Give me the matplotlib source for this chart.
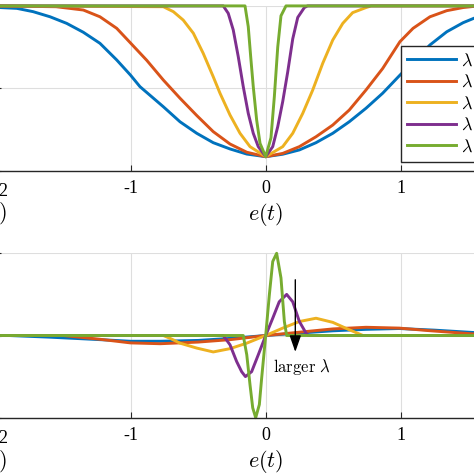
import matplotlib.pyplot as plt

# -------------------- DATA --------------------
labels = [r'$\lambda = 1$', r'$\lambda = 2$', r'$\lambda = 5$', r'$\lambda = 10$', r'$\lambda = 20$']
colors = ['#0072BD', '#D95319', '#EDB120', '#7E2F8E', '#77AC30']

# top panel
top_e_blue = [-2.0, -1.965, -1.84, -1.72, -1.595, -1.472, -1.349, -1.226, -1.102, -1.0, -0.93,
              -0.757, -0.634, -0.51, -0.388, -0.264, -0.14, 0.0, 0.126, 0.249, 0.372, 0.496,
              0.618, 0.742, 0.865, 0.993, 1.215, 1.339, 1.46, 1.54, 2.0]
top_v_blue = [1.0, 0.99, 0.985, 0.965, 0.934, 0.894, 0.84, 0.773, 0.672, 0.58, 0.51,
              0.388, 0.297, 0.227, 0.17, 0.132, 0.101, 0.085, 0.1, 0.126, 0.17, 0.227,
              0.297, 0.379, 0.47, 0.58, 0.763, 0.843, 0.898, 0.925, 1.0]

top_e_red = [-2.0, -1.55, -1.349, -1.226, -1.102, -1.0, -0.88, -0.757, -0.634, -0.51, -0.388,
             -0.264, -0.14, 0.0, 0.126, 0.249, 0.372, 0.496, 0.618, 0.742, 0.865, 0.993,
             1.09, 1.215, 1.339, 1.46, 1.55, 2.0]
top_v_red = [1.0, 0.995, 0.975, 0.934, 0.864, 0.775, 0.67, 0.55, 0.44, 0.335, 0.237,
             0.162, 0.112, 0.085, 0.105, 0.146, 0.206, 0.277, 0.368, 0.49, 0.62, 0.783,
             0.864, 0.934, 0.971, 0.99, 0.998, 1.0]

top_e_yellow = [-2.0, -0.757, -0.683, -0.61, -0.535, -0.462, -0.388, -0.338, -0.264, -0.19,
                -0.116, 0.0, 0.126, 0.2, 0.274, 0.348, 0.422, 0.496, 0.57, 0.643, 0.742, 0.78, 2.0]
top_v_yellow = [1.0, 0.995, 0.965, 0.914, 0.834, 0.712, 0.57, 0.47, 0.338, 0.227,
                0.146, 0.085, 0.146, 0.227, 0.348, 0.49, 0.652, 0.793, 0.894, 0.959, 0.99, 1.0, 1.0]

top_e_purple = [-2.0, -0.314, -0.277, -0.24, -0.203, -0.166, -0.129, -0.092, -0.055, 0.0,
                0.052, 0.089, 0.126, 0.163, 0.2, 0.237, 0.286, 0.31, 2.0]
top_v_purple = [1.0, 1.0, 0.955, 0.854, 0.692, 0.51, 0.348, 0.227, 0.146, 0.085,
                0.146, 0.267, 0.42, 0.6, 0.8, 0.93, 0.99, 1.0, 1.0]

top_e_green = [-2.0, -0.153, -0.129, -0.111, -0.092, -0.067, -0.042, 0.0,
               0.039, 0.064, 0.089, 0.113, 0.15, 2.0]
top_v_green = [1.0, 1.0, 0.874, 0.692, 0.51, 0.308, 0.166, 0.085,
               0.2, 0.45, 0.75, 0.94, 1.0, 1.0]

# bottom panel (scaled so the green peak is 1)
bot_e_blue = [-2.0, -1.9, -1.6, -1.23, -1.0, -0.78, -0.5, -0.26, 0.0, 0.249, 0.496, 0.742,
              0.988, 1.25, 1.53, 2.0]
bot_v_blue = [0.0, 0.0, -0.02, -0.05, -0.07, -0.07, -0.06, -0.035, 0.0, 0.03, 0.057, 0.075,
              0.085, 0.065, 0.037, 0.0]

bot_e_red = [-2.0, -1.5, -1.23, -1.0, -0.78, -0.5, -0.26, 0.0, 0.249, 0.496, 0.742, 0.988,
             1.2, 1.53, 2.0]
bot_v_red = [0.0, 0.0, -0.045, -0.09, -0.1, -0.08, -0.05, 0.0, 0.04, 0.08, 0.1, 0.09,
             0.06, 0.02, 0.0]

bot_e_yellow = [-2.0, -0.757, -0.7, -0.634, -0.51, -0.388, -0.264, -0.14, 0.0, 0.126, 0.249,
                0.372, 0.496, 0.618, 0.72, 2.0]
bot_v_yellow = [0.0, 0.0, -0.04, -0.093, -0.153, -0.2, -0.16, -0.093, 0.0, 0.09, 0.17,
                0.21, 0.16, 0.07, 0.0, 0.0]

bot_e_purple = [-2.0, -0.314, -0.264, -0.215, -0.178, -0.15, -0.104, -0.055, 0.0, 0.052,
                0.1, 0.155, 0.2, 0.249, 0.298, 0.314, 2.0]
bot_v_purple = [0.0, 0.0, -0.113, -0.316, -0.44, -0.5, -0.44, -0.235, 0.0, 0.21,
                0.41, 0.5, 0.41, 0.17, 0.03, 0.0, 0.0]

bot_e_green = [-2.0, -0.166, -0.14, -0.116, -0.096, -0.074, -0.047, -0.03, 0.0, 0.027,
               0.052, 0.081, 0.113, 0.138, 0.155, 2.0]
bot_v_green = [0.0, 0.0, -0.235, -0.6, -0.88, -1.0, -0.84, -0.52, 0.0, 0.495,
               0.9, 1.0, 0.7, 0.17, 0.0, 0.0]

top_series = [(top_e_blue, top_v_blue), (top_e_red, top_v_red), (top_e_yellow, top_v_yellow),
              (top_e_purple, top_v_purple), (top_e_green, top_v_green)]
bot_series = [(bot_e_blue, bot_v_blue), (bot_e_red, bot_v_red), (bot_e_yellow, bot_v_yellow),
              (bot_e_purple, bot_v_purple), (bot_e_green, bot_v_green)]

xticks = [-1, 0, 1]
xticklabels = ['-1', '0', '1']

# -------------------- STYLE --------------------
plt.rcParams['font.family'] = ['Liberation Serif', 'DejaVu Serif']
plt.rcParams['mathtext.fontset'] = 'cm'
axcol = '#262626'

W = 474.0
fig = plt.figure(figsize=(4.74, 4.74), dpi=100)
ax1 = fig.add_axes([-4.7 / W, (W - 170.7) / W, 540.8 / W, 164.8 / W])
ax2 = fig.add_axes([-4.7 / W, (W - 417.7) / W, 540.8 / W, 164.4 / W])


def style(ax, yticks):
    ax.set_xlim(-2, 2)
    ax.set_xticks(xticks)
    ax.set_xticklabels(xticklabels)
    # y tick labels sit left of the picture's edge, so none are shown
    ax.set_yticks(yticks)
    ax.set_yticklabels([])
    for s in ['top', 'right']:
        ax.spines[s].set_visible(False)
    for s in ['left', 'bottom']:
        ax.spines[s].set_color(axcol)
        ax.spines[s].set_linewidth(1.0)
    ax.tick_params(direction='in', length=4.5, width=0.8, color=axcol,
                   labelsize=13, pad=7, labelcolor='black')
    ax.grid(True, color='#dedede', linewidth=0.8)
    ax.set_axisbelow(True)
    ax.set_xlabel(r'$e(t)$', fontsize=16)
    ax.xaxis.set_label_coords(0.5, -0.185)


# -------------------- TOP PANEL --------------------
style(ax1, [0, 0.5, 1])
ax1.set_ylim(0, 1)
for (e, v), c, lab in zip(top_series, colors, labels):
    ax1.plot(e, v, color=c, linewidth=2.1, label=lab, clip_on=False)

ax1.legend(loc='upper left', bbox_to_anchor=((401 + 4.7) / 540.8, (170.7 - 46) / 164.8),
           borderaxespad=0, fontsize=13, handlelength=2.7, handletextpad=0.25,
           labelspacing=0.25, borderpad=0.35, fancybox=False, framealpha=1,
           edgecolor=axcol)

# -------------------- BOTTOM PANEL --------------------
style(ax2, [-1, 0, 1])
ax2.set_ylim(-1, 1)
for (e, v), c in zip(bot_series, colors):
    ax2.plot(e, v, color=c, linewidth=2.1, clip_on=False)

ax2.annotate('', xy=(0.219, -0.2), xytext=(0.219, 0.678),
             arrowprops=dict(arrowstyle='-|>,head_length=1.0,head_width=0.35',
                             color='black', lw=1.0, mutation_scale=10,
                             shrinkA=0, shrinkB=0), zorder=10)
ax2.text(0.27, -0.385, r'$\mathrm{larger}\ \lambda$', ha='center', va='center', fontsize=12)

# -------------------- LEFT NEIGHBOUR (cut off) --------------------
for yc, yl in [(191, 213), (438.5, 461)]:
    fig.text(7.3 / W, 1 - yc / W, '2', ha='right', va='center', fontsize=13)
    fig.text(7.0 / W, 1 - yl / W, r'$)$', ha='right', va='center', fontsize=16)

fig.savefig('out.png', dpi=100)
